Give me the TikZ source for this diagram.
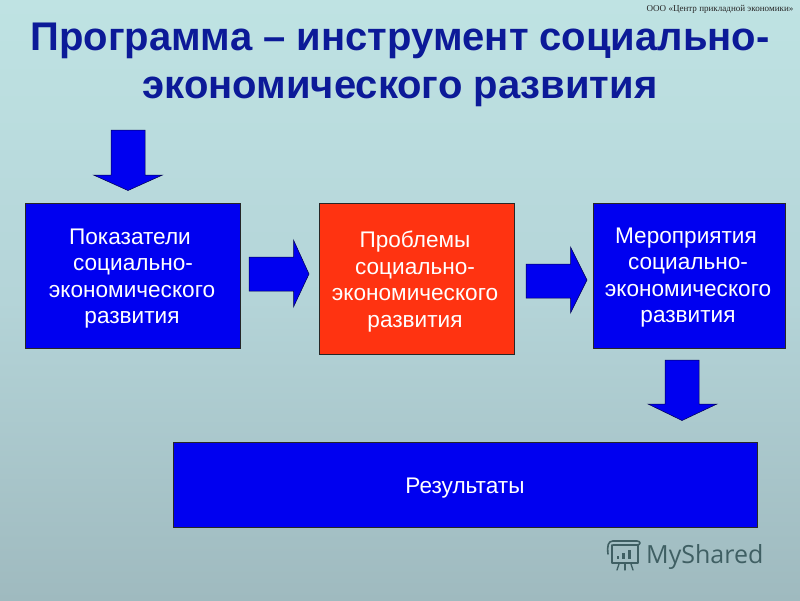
\documentclass[tikz,border=0pt]{standalone}
\usepackage{fontspec}
\setmainfont{Liberation Sans}
\newfontfamily\tnr{Liberation Serif}
\newfontfamily\osans{Open Sans}
\definecolor{bgtop}{HTML}{BFE3E3}
\definecolor{bgmid}{HTML}{B4D4D8}
\definecolor{bgbot}{HTML}{9FBABF}
\definecolor{bluebox}{HTML}{0000F0}
\definecolor{redbox}{HTML}{FF3311}
\definecolor{titleblue}{HTML}{0C1A98}
\definecolor{logo}{HTML}{3F5F63}
\tikzset{
  boxbase/.style={draw=black!85,line width=0.6pt,inner sep=0pt,anchor=north west},
  bluenode/.style={boxbase,fill=bluebox},
  rednode/.style={boxbase,fill=redbox},
  boxtext/.style={align=center,text=white,font=\fontsize{22.6}{26.6}\selectfont,inner sep=0pt},
  blockarrow/.style={fill=bluebox,draw=black!70!blue,line width=0.5pt,line join=miter},
  titletext/.style={text=titleblue,font=\bfseries\fontsize{40}{48.5}\selectfont,align=center},
  logoline/.style={draw=logo,line width=1.6pt,line cap=round,line join=round}
}
\begin{document}
\begin{tikzpicture}[x=1pt,y=-1pt]
\useasboundingbox (0,0) rectangle (800,600);
\shade[top color=bgtop,bottom color=bgbot,middle color=bgmid] (0,0) rectangle (800,600);

\node[text=black!85,font=\tnr\fontsize{9.05}{10}\selectfont,inner sep=0pt] (firm) at (720,9.5) {ООО «Центр прикладной экономики»};
\node[titletext,inner sep=0pt] (title) at (400,65) {Программа – инструмент социально-\\экономического развития};

\node[bluenode,minimum width=214.5pt,minimum height=144.5pt] (b1) at (25,203) {};
\node[boxtext] (t1) at (132,278.5) {\hspace*{-4pt}Показатели\\ \hspace*{2pt}социально-\\экономического\\развития};
\node[rednode,minimum width=194.5pt,minimum height=150.5pt] (b2) at (319,203) {};
\node[boxtext] (t2) at (415,281.5) {Проблемы\\ социально-\\экономического\\развития};
\node[bluenode,minimum width=191.5pt,minimum height=144.5pt] (b3) at (593,203) {};
\node[boxtext] (t3) at (688,277.5) {\hspace*{-4pt}Мероприятия\\ социально-\\экономического\\развития};
\node[bluenode,minimum width=583.5pt,minimum height=84.5pt] (b4) at (173,442) {};
\node[boxtext] (t4) at (465,488) {Результаты};

\draw[blockarrow] (111,130) -- (145,130) -- (145,175) -- (162.5,175) -- (128,190.5) -- (93.5,175) -- (111,175) -- cycle;
\draw[blockarrow] (249,257) -- (293.5,257) -- (293.5,240) -- (309,274) -- (293.5,307) -- (293.5,291) -- (249,291) -- cycle;
\draw[blockarrow] (526,264) -- (570.5,264) -- (570.5,247) -- (587,280) -- (570.5,313) -- (570.5,298) -- (526,298) -- cycle;
\draw[blockarrow] (665,360) -- (699,360) -- (699,404) -- (717,404) -- (682,420.5) -- (648,404) -- (665,404) -- cycle;

% MyShared logo
\draw[logoline] (613,541) -- (637,541) .. controls (641,541) and (641,545) .. (637,545) -- (613,545);
\draw[logoline] (613,541) .. controls (608,541) and (607,546) .. (608,554);
\draw[logoline] (612,545) -- (612,563) -- (638,563) -- (638,545);
\fill[logo] (617,556) rectangle (619,559);
\fill[logo] (622,553) rectangle (624.5,559);
\fill[logo] (628,550) rectangle (631,559);
\draw[logoline,line width=1.3pt] (619,564) -- (617,570);
\draw[logoline,line width=1.3pt] (625,564) -- (625,570);
\draw[logoline,line width=1.3pt] (631,564) -- (633,570);
\node[text=logo,font=\osans\fontsize{25}{28}\selectfont,anchor=base west,inner sep=0pt] (brand) at (646,563.5) {MyShared};
\end{tikzpicture}
\end{document}
